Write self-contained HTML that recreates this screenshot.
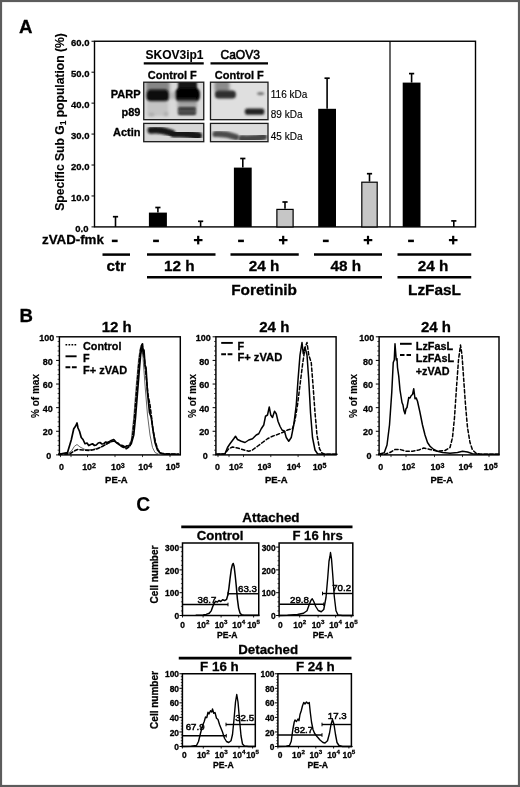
<!DOCTYPE html>
<html lang="en"><head><meta charset="utf-8"><title>Figure</title>
<style>html,body{margin:0;padding:0;background:#fff;}body{width:520px;height:787px;overflow:hidden;}svg{display:block;font-family:'Liberation Sans', sans-serif;}text{stroke:#000;stroke-width:0.3px;}</style></head><body>
<svg width="520" height="787" viewBox="0 0 520 787">
<defs><filter id="b1" x="-30%" y="-60%" width="160%" height="220%"><feGaussianBlur stdDeviation="1.1"/></filter><filter id="b2" x="-30%" y="-60%" width="160%" height="220%"><feGaussianBlur stdDeviation="1.8"/></filter><filter id="b3" x="-30%" y="-60%" width="160%" height="220%"><feGaussianBlur stdDeviation="0.8"/></filter><filter id="soft" x="-5%" y="-5%" width="110%" height="110%"><feGaussianBlur stdDeviation="0.35"/></filter></defs>
<rect x="0" y="0" width="520" height="787" fill="#fff" stroke="none" stroke-width="1" />
<rect x="1.05" y="1.05" width="517.9" height="784.9" fill="none" stroke="#5c5c5c" stroke-width="2.1" />
<g filter="url(#soft)">
<text x="19.1" y="33.1" font-size="18.7" font-weight="bold" text-anchor="start" fill="#000" >A</text>
<text transform="translate(64,122) rotate(-90)" style="stroke-width:0.15px" font-size="12.1" font-weight="bold" text-anchor="middle">Specific Sub G<tspan font-size="8.5" dy="2">1</tspan><tspan dy="-2"> population (%)</tspan></text>
<rect x="94.5" y="41.25" width="381.0" height="185.65" fill="none" stroke="#000" stroke-width="1.4" />
<line x1="390" y1="41.25" x2="390" y2="226.9" stroke="#000" stroke-width="1.2" />
<line x1="91.5" y1="226.9" x2="94.5" y2="226.9" stroke="#000" stroke-width="1" />
<text x="88.5" y="231.5" font-size="9.5" font-weight="bold" text-anchor="end" fill="#000" >0.0</text>
<line x1="91.5" y1="195.95833333333334" x2="94.5" y2="195.95833333333334" stroke="#000" stroke-width="1" />
<text x="89.5" y="200.85833333333335" font-size="9.5" font-weight="bold" text-anchor="end" fill="#000" >10.0</text>
<line x1="91.5" y1="165.01666666666668" x2="94.5" y2="165.01666666666668" stroke="#000" stroke-width="1" />
<text x="89.5" y="169.91666666666669" font-size="9.5" font-weight="bold" text-anchor="end" fill="#000" >20.0</text>
<line x1="91.5" y1="134.075" x2="94.5" y2="134.075" stroke="#000" stroke-width="1" />
<text x="89.5" y="138.975" font-size="9.5" font-weight="bold" text-anchor="end" fill="#000" >30.0</text>
<line x1="91.5" y1="103.13333333333334" x2="94.5" y2="103.13333333333334" stroke="#000" stroke-width="1" />
<text x="89.5" y="108.03333333333335" font-size="9.5" font-weight="bold" text-anchor="end" fill="#000" >40.0</text>
<line x1="91.5" y1="72.19166666666666" x2="94.5" y2="72.19166666666666" stroke="#000" stroke-width="1" />
<text x="89.5" y="77.09166666666667" font-size="9.5" font-weight="bold" text-anchor="end" fill="#000" >50.0</text>
<line x1="91.5" y1="41.25" x2="94.5" y2="41.25" stroke="#000" stroke-width="1" />
<text x="89.5" y="46.15" font-size="9.5" font-weight="bold" text-anchor="end" fill="#000" >60.0</text>
<line x1="115.5" y1="216.7" x2="115.5" y2="226.9" stroke="#000" stroke-width="1.6" />
<line x1="112.9" y1="216.7" x2="118.1" y2="216.7" stroke="#000" stroke-width="1.7" />
<line x1="157.9" y1="207.5" x2="157.9" y2="212.6" stroke="#000" stroke-width="1.6" />
<line x1="155.3" y1="207.5" x2="160.5" y2="207.5" stroke="#000" stroke-width="1.7" />
<rect x="148.9" y="212.6" width="18.0" height="14.300000000000011" fill="#000" stroke="none" stroke-width="1" />
<line x1="200.6" y1="221.3" x2="200.6" y2="226.9" stroke="#000" stroke-width="1.6" />
<line x1="198.0" y1="221.3" x2="203.2" y2="221.3" stroke="#000" stroke-width="1.7" />
<line x1="242.8" y1="158.5" x2="242.8" y2="167.6" stroke="#000" stroke-width="1.6" />
<line x1="240.20000000000002" y1="158.5" x2="245.4" y2="158.5" stroke="#000" stroke-width="1.7" />
<rect x="233.9" y="167.6" width="17.799999999999983" height="59.30000000000001" fill="#000" stroke="none" stroke-width="1" />
<line x1="285" y1="202" x2="285" y2="208.8" stroke="#000" stroke-width="1.6" />
<line x1="282.4" y1="202" x2="287.6" y2="202" stroke="#000" stroke-width="1.7" />
<rect x="276.90000000000003" y="209.4" width="16.199999999999978" height="17.499999999999993" fill="#c6c6c6" stroke="#000" stroke-width="1.2" />
<line x1="327.1" y1="78.2" x2="327.1" y2="108.8" stroke="#000" stroke-width="1.6" />
<line x1="324.5" y1="78.2" x2="329.70000000000005" y2="78.2" stroke="#000" stroke-width="1.7" />
<rect x="318.2" y="108.8" width="17.80000000000001" height="118.10000000000001" fill="#000" stroke="none" stroke-width="1" />
<line x1="369.5" y1="173.7" x2="369.5" y2="181.6" stroke="#000" stroke-width="1.6" />
<line x1="366.9" y1="173.7" x2="372.1" y2="173.7" stroke="#000" stroke-width="1.7" />
<rect x="361.8" y="182.2" width="15.400000000000023" height="44.70000000000001" fill="#c6c6c6" stroke="#000" stroke-width="1.2" />
<line x1="411.6" y1="73.6" x2="411.6" y2="82.6" stroke="#000" stroke-width="1.6" />
<line x1="409.0" y1="73.6" x2="414.20000000000005" y2="73.6" stroke="#000" stroke-width="1.7" />
<rect x="402.7" y="82.6" width="17.80000000000001" height="144.3" fill="#000" stroke="none" stroke-width="1" />
<line x1="453.8" y1="220.9" x2="453.8" y2="226.9" stroke="#000" stroke-width="1.6" />
<line x1="451.2" y1="220.9" x2="456.40000000000003" y2="220.9" stroke="#000" stroke-width="1.7" />
<text x="42" y="244" font-size="13.3" font-weight="bold" text-anchor="start" fill="#000" >zVAD-fmk</text>
<line x1="111.85" y1="240.9" x2="117.65" y2="240.9" stroke="#000" stroke-width="2.5" />
<line x1="153.1" y1="240.9" x2="158.9" y2="240.9" stroke="#000" stroke-width="2.5" />
<line x1="193.89999999999998" y1="240.1" x2="202.5" y2="240.1" stroke="#000" stroke-width="2.2" />
<line x1="198.2" y1="235.8" x2="198.2" y2="244.4" stroke="#000" stroke-width="2.2" />
<line x1="238.1" y1="240.9" x2="243.9" y2="240.9" stroke="#000" stroke-width="2.5" />
<line x1="278.9" y1="240.1" x2="287.5" y2="240.1" stroke="#000" stroke-width="2.2" />
<line x1="283.2" y1="235.8" x2="283.2" y2="244.4" stroke="#000" stroke-width="2.2" />
<line x1="322.90000000000003" y1="240.9" x2="328.7" y2="240.9" stroke="#000" stroke-width="2.5" />
<line x1="363.7" y1="240.1" x2="372.3" y2="240.1" stroke="#000" stroke-width="2.2" />
<line x1="368" y1="235.8" x2="368" y2="244.4" stroke="#000" stroke-width="2.2" />
<line x1="408.1" y1="240.9" x2="413.9" y2="240.9" stroke="#000" stroke-width="2.5" />
<line x1="448.9" y1="240.1" x2="457.5" y2="240.1" stroke="#000" stroke-width="2.2" />
<line x1="453.2" y1="235.8" x2="453.2" y2="244.4" stroke="#000" stroke-width="2.2" />
<line x1="102.5" y1="254.6" x2="130" y2="254.6" stroke="#000" stroke-width="2.5" />
<line x1="147" y1="254.6" x2="215.5" y2="254.6" stroke="#000" stroke-width="2.5" />
<line x1="230.5" y1="254.6" x2="298.75" y2="254.6" stroke="#000" stroke-width="2.5" />
<line x1="314" y1="254.6" x2="382" y2="254.6" stroke="#000" stroke-width="2.5" />
<line x1="397.5" y1="254.6" x2="471.25" y2="254.6" stroke="#000" stroke-width="2.5" />
<text x="116.3" y="270.8" font-size="15.3" font-weight="bold" text-anchor="middle" fill="#000" >ctr</text>
<text x="179.3" y="270.8" font-size="15.3" font-weight="bold" text-anchor="middle" fill="#000" >12 h</text>
<text x="264" y="270.8" font-size="15.3" font-weight="bold" text-anchor="middle" fill="#000" >24 h</text>
<text x="345.7" y="270.8" font-size="15.3" font-weight="bold" text-anchor="middle" fill="#000" >48 h</text>
<text x="433" y="270.8" font-size="15.3" font-weight="bold" text-anchor="middle" fill="#000" >24 h</text>
<line x1="147" y1="277.2" x2="382" y2="277.2" stroke="#000" stroke-width="2.5" />
<line x1="397.5" y1="277.2" x2="471.25" y2="277.2" stroke="#000" stroke-width="2.5" />
<text x="264.1" y="294.6" font-size="15.4" font-weight="bold" text-anchor="middle" fill="#000" >Foretinib</text>
<text x="434.5" y="294.6" font-size="15.4" font-weight="bold" text-anchor="middle" fill="#000" >LzFasL</text>
<text x="174.5" y="58.5" font-size="12" font-weight="bold" text-anchor="middle" fill="#000" style="stroke-width:0.1px">SKOV3ip1</text>
<text x="240.2" y="58.5" font-size="12" font-weight="normal" text-anchor="middle" fill="#000" style="stroke-width:0.6px">CaOV3</text>
<line x1="143.75" y1="63.4" x2="203.75" y2="63.4" stroke="#000" stroke-width="2.2" />
<line x1="210.5" y1="63.4" x2="268" y2="63.4" stroke="#000" stroke-width="2.2" />
<text x="172.3" y="79" font-size="11" font-weight="bold" text-anchor="middle" fill="#000" >Control F</text>
<text x="239.3" y="79" font-size="11" font-weight="bold" text-anchor="middle" fill="#000" >Control F</text>
<text x="140.5" y="98.2" font-size="11" font-weight="bold" text-anchor="end" fill="#000" >PARP</text>
<text x="140.5" y="116.4" font-size="11" font-weight="bold" text-anchor="end" fill="#000" >p89</text>
<text x="140.5" y="136" font-size="11" font-weight="bold" text-anchor="end" fill="#000" >Actin</text>
<text x="270.8" y="98" font-size="10" font-weight="normal" text-anchor="start" fill="#000" style="stroke-width:0.15px">116 kDa</text>
<text x="270.8" y="117.7" font-size="10" font-weight="normal" text-anchor="start" fill="#000" style="stroke-width:0.15px">89 kDa</text>
<text x="270.8" y="140.4" font-size="10" font-weight="normal" text-anchor="start" fill="#000" style="stroke-width:0.15px">45 kDa</text>
<svg x="143.75" y="82.2" width="60" height="37.5" viewBox="143.75 82.2 60 37.5" overflow="hidden">
<rect x="143.75" y="82.2" width="60" height="37.5" fill="#d9d9d9" stroke="none" stroke-width="1" />
<rect x="146" y="80" width="23.5" height="12" fill="#6a6a6a" opacity="0.75" filter="url(#b2)"/>
<rect x="178" y="78" width="19" height="14" rx="3" fill="#141414" filter="url(#b1)"/>
<rect x="146.3" y="89.6" width="23" height="12" rx="4.5" fill="#0c0c0c" filter="url(#b1)"/>
<rect x="175.3" y="88" width="24.6" height="13.6" rx="5" fill="#060606" filter="url(#b1)"/>
<rect x="169" y="92" width="7" height="7" fill="#999" opacity="0.5" filter="url(#b2)"/>
<rect x="177.5" y="99" width="19.5" height="9" fill="#777" opacity="0.55" filter="url(#b2)"/>
<rect x="147" y="101" width="21" height="15" fill="#aaa" opacity="0.45" filter="url(#b2)"/>
<rect x="177.8" y="107.3" width="18.4" height="7.6" rx="2" fill="#5a5a5a" filter="url(#b1)"/>
<rect x="178.5" y="107.6" width="17" height="2.2" rx="1" fill="#333" filter="url(#b3)"/>
<rect x="178.5" y="112.2" width="17" height="2.2" rx="1" fill="#3a3a3a" filter="url(#b3)"/>
<ellipse cx="151.5" cy="114.5" rx="3" ry="2" fill="#aaa" opacity="0.8" filter="url(#b1)"/>
<ellipse cx="166" cy="114" rx="2.5" ry="2" fill="#aaa" opacity="0.8" filter="url(#b1)"/>
</svg>
<rect x="143.75" y="82.2" width="60" height="37.5" fill="none" stroke="#1a1a1a" stroke-width="1.3" />
<svg x="143.75" y="123.4" width="60" height="18.3" viewBox="143.75 123.4 60 18.3" overflow="hidden">
<rect x="143.75" y="123.4" width="60" height="18.3" fill="#d6d6d6" stroke="none" stroke-width="1" />
<path d="M151 130.2 Q160 129 172 133.2" stroke="#151515" stroke-width="7" fill="none" stroke-linecap="round" filter="url(#b3)"/>
<path d="M174 133.6 Q187 132.8 198 135.8" stroke="#151515" stroke-width="8" fill="none" stroke-linecap="round" filter="url(#b3)"/>
</svg>
<rect x="143.75" y="123.4" width="60" height="18.3" fill="none" stroke="#1a1a1a" stroke-width="1.3" />
<svg x="210.5" y="82.2" width="57.5" height="37.5" viewBox="210.5 82.2 57.5 37.5" overflow="hidden">
<rect x="210.5" y="82.2" width="57.5" height="37.5" fill="#dfdfdf" stroke="none" stroke-width="1" />
<rect x="214.5" y="80" width="15" height="12" rx="3" fill="#777" opacity="0.8" filter="url(#b2)"/>
<rect x="214.9" y="90.4" width="21" height="8" rx="3.5" fill="#2e2e2e" filter="url(#b1)"/>
<ellipse cx="260.6" cy="93.6" rx="3.6" ry="1.7" fill="#777" filter="url(#b1)"/>
<rect x="244.8" y="108.6" width="19.6" height="6.2" rx="2.8" fill="#242424" filter="url(#b1)"/>
</svg>
<rect x="210.5" y="82.2" width="57.5" height="37.5" fill="none" stroke="#1a1a1a" stroke-width="1.3" />
<svg x="210.5" y="123.4" width="57.5" height="18.3" viewBox="210.5 123.4 57.5 18.3" overflow="hidden">
<rect x="210.5" y="123.4" width="57.5" height="18.3" fill="#dcdcdc" stroke="none" stroke-width="1" />
<path d="M215.5 134 Q226 133.5 236 137.2" stroke="#4c4c4c" stroke-width="6.2" fill="none" stroke-linecap="round" filter="url(#b3)"/>
<path d="M242 138.5 Q254 139.5 263.5 136.8" stroke="#444" stroke-width="7" fill="none" stroke-linecap="round" filter="url(#b3)"/>
</svg>
<rect x="210.5" y="123.4" width="57.5" height="18.3" fill="none" stroke="#1a1a1a" stroke-width="1.3" />
<text x="19.5" y="322.2" font-size="18.6" font-weight="bold" text-anchor="start" fill="#000" >B</text>
<rect x="59.4" y="336.8" width="120.9" height="118.09999999999997" fill="none" stroke="#000" stroke-width="1.45" />
<line x1="56.1" y1="454.9" x2="59.4" y2="454.9" stroke="#000" stroke-width="1" />
<text x="51.199999999999996" y="459.03999999999996" font-size="9.0" font-weight="bold" text-anchor="end" fill="#000" >0</text>
<line x1="56.1" y1="431.28" x2="59.4" y2="431.28" stroke="#000" stroke-width="1" />
<text x="52.699999999999996" y="435.41999999999996" font-size="9.0" font-weight="bold" text-anchor="end" fill="#000" >20</text>
<line x1="56.1" y1="407.65999999999997" x2="59.4" y2="407.65999999999997" stroke="#000" stroke-width="1" />
<text x="52.699999999999996" y="411.79999999999995" font-size="9.0" font-weight="bold" text-anchor="end" fill="#000" >40</text>
<line x1="56.1" y1="384.03999999999996" x2="59.4" y2="384.03999999999996" stroke="#000" stroke-width="1" />
<text x="52.699999999999996" y="388.17999999999995" font-size="9.0" font-weight="bold" text-anchor="end" fill="#000" >60</text>
<line x1="56.1" y1="360.42" x2="59.4" y2="360.42" stroke="#000" stroke-width="1" />
<text x="52.699999999999996" y="364.56" font-size="9.0" font-weight="bold" text-anchor="end" fill="#000" >80</text>
<line x1="56.1" y1="336.8" x2="59.4" y2="336.8" stroke="#000" stroke-width="1" />
<text x="54.199999999999996" y="340.94" font-size="9.0" font-weight="bold" text-anchor="end" fill="#000" >100</text>
<line x1="57.6" y1="450.176" x2="59.4" y2="450.176" stroke="#000" stroke-width="0.7" />
<line x1="57.6" y1="445.452" x2="59.4" y2="445.452" stroke="#000" stroke-width="0.7" />
<line x1="57.6" y1="440.728" x2="59.4" y2="440.728" stroke="#000" stroke-width="0.7" />
<line x1="57.6" y1="436.00399999999996" x2="59.4" y2="436.00399999999996" stroke="#000" stroke-width="0.7" />
<line x1="57.6" y1="426.556" x2="59.4" y2="426.556" stroke="#000" stroke-width="0.7" />
<line x1="57.6" y1="421.832" x2="59.4" y2="421.832" stroke="#000" stroke-width="0.7" />
<line x1="57.6" y1="417.108" x2="59.4" y2="417.108" stroke="#000" stroke-width="0.7" />
<line x1="57.6" y1="412.384" x2="59.4" y2="412.384" stroke="#000" stroke-width="0.7" />
<line x1="57.6" y1="402.936" x2="59.4" y2="402.936" stroke="#000" stroke-width="0.7" />
<line x1="57.6" y1="398.212" x2="59.4" y2="398.212" stroke="#000" stroke-width="0.7" />
<line x1="57.6" y1="393.488" x2="59.4" y2="393.488" stroke="#000" stroke-width="0.7" />
<line x1="57.6" y1="388.764" x2="59.4" y2="388.764" stroke="#000" stroke-width="0.7" />
<line x1="57.6" y1="379.31600000000003" x2="59.4" y2="379.31600000000003" stroke="#000" stroke-width="0.7" />
<line x1="57.6" y1="374.592" x2="59.4" y2="374.592" stroke="#000" stroke-width="0.7" />
<line x1="57.6" y1="369.868" x2="59.4" y2="369.868" stroke="#000" stroke-width="0.7" />
<line x1="57.6" y1="365.144" x2="59.4" y2="365.144" stroke="#000" stroke-width="0.7" />
<line x1="57.6" y1="355.696" x2="59.4" y2="355.696" stroke="#000" stroke-width="0.7" />
<line x1="57.6" y1="350.972" x2="59.4" y2="350.972" stroke="#000" stroke-width="0.7" />
<line x1="57.6" y1="346.248" x2="59.4" y2="346.248" stroke="#000" stroke-width="0.7" />
<line x1="57.6" y1="341.524" x2="59.4" y2="341.524" stroke="#000" stroke-width="0.7" />
<text x="61.5" y="470.2" font-size="8.9" font-weight="bold" text-anchor="middle" fill="#000" >0</text>
<text x="89.1" y="470.2" font-size="8.9" font-weight="bold" text-anchor="middle">10<tspan font-size="7.1" dy="-2.6">2</tspan></text>
<text x="117.9" y="470.2" font-size="8.9" font-weight="bold" text-anchor="middle">10<tspan font-size="7.1" dy="-2.6">3</tspan></text>
<text x="145.2" y="470.2" font-size="8.9" font-weight="bold" text-anchor="middle">10<tspan font-size="7.1" dy="-2.6">4</tspan></text>
<text x="172.7" y="470.2" font-size="8.9" font-weight="bold" text-anchor="middle">10<tspan font-size="7.1" dy="-2.6">5</tspan></text>
<text x="116.4" y="483.1" font-size="8.9" font-weight="bold" text-anchor="middle" textLength="22.6" lengthAdjust="spacingAndGlyphs">PE-A</text>
<text transform="translate(38.7,396) rotate(-90)" style="stroke-width:0.15px" font-size="10" font-weight="bold" text-anchor="middle">% of max</text>
<text x="116.7" y="331.6" font-size="15" font-weight="bold" text-anchor="middle" fill="#000" >12 h</text>
<line x1="60.5" y1="454.9" x2="60.5" y2="457.09999999999997" stroke="#000" stroke-width="0.8" />
<line x1="71" y1="454.9" x2="71" y2="457.09999999999997" stroke="#000" stroke-width="0.8" />
<line x1="87.5" y1="454.9" x2="87.5" y2="457.09999999999997" stroke="#000" stroke-width="0.8" />
<line x1="115" y1="454.9" x2="115" y2="457.09999999999997" stroke="#000" stroke-width="0.8" />
<line x1="142.5" y1="454.9" x2="142.5" y2="457.09999999999997" stroke="#000" stroke-width="0.8" />
<line x1="170" y1="454.9" x2="170" y2="457.09999999999997" stroke="#000" stroke-width="0.8" />
<line x1="218" y1="454.9" x2="218" y2="457.09999999999997" stroke="#000" stroke-width="0.8" />
<line x1="229" y1="454.9" x2="229" y2="457.09999999999997" stroke="#000" stroke-width="0.8" />
<line x1="243.5" y1="454.9" x2="243.5" y2="457.09999999999997" stroke="#000" stroke-width="0.8" />
<line x1="270.8" y1="454.9" x2="270.8" y2="457.09999999999997" stroke="#000" stroke-width="0.8" />
<line x1="298.1" y1="454.9" x2="298.1" y2="457.09999999999997" stroke="#000" stroke-width="0.8" />
<line x1="324.2" y1="454.9" x2="324.2" y2="457.09999999999997" stroke="#000" stroke-width="0.8" />
<line x1="380.5" y1="454.9" x2="380.5" y2="457.09999999999997" stroke="#000" stroke-width="0.8" />
<line x1="391" y1="454.9" x2="391" y2="457.09999999999997" stroke="#000" stroke-width="0.8" />
<line x1="406" y1="454.9" x2="406" y2="457.09999999999997" stroke="#000" stroke-width="0.8" />
<line x1="434.5" y1="454.9" x2="434.5" y2="457.09999999999997" stroke="#000" stroke-width="0.8" />
<line x1="462.5" y1="454.9" x2="462.5" y2="457.09999999999997" stroke="#000" stroke-width="0.8" />
<line x1="489" y1="454.9" x2="489" y2="457.09999999999997" stroke="#000" stroke-width="0.8" />
<line x1="65.5" y1="344.7" x2="77" y2="344.7" stroke="#000" stroke-width="1.6" stroke-dasharray="1.7,1.3"/>
<line x1="65.5" y1="356.3" x2="76.6" y2="356.3" stroke="#000" stroke-width="1.9" />
<line x1="65.5" y1="367.3" x2="77" y2="367.3" stroke="#000" stroke-width="1.9" stroke-dasharray="4.8,1.6"/>
<text x="83" y="349.8" font-size="10.8" font-weight="bold" text-anchor="start" fill="#000" >Control</text>
<text x="83" y="362.2" font-size="10.8" font-weight="bold" text-anchor="start" fill="#000" >F</text>
<text x="83" y="373.5" font-size="11" font-weight="bold" text-anchor="start" fill="#000" >F+ zVAD</text>
<polyline points="58.75,454.25 67.50,453.75 71.25,451.25 74.50,446.25 77.00,444.50 80.00,447.00 85.00,449.50 92.50,449.50 100.00,447.50 107.50,443.75 113.75,441.25 117.50,443.75 122.50,447.50 127.50,447.50 131.25,440.00 133.75,417.50 136.25,385.00 138.75,357.50 140.75,345.50 143.00,357.50 145.00,385.00 147.50,415.00 150.00,435.00 152.50,447.50 155.00,452.50 158.75,454.25 178.75,454.25" fill="none" stroke="#555" stroke-width="0.9" stroke-linejoin="round" stroke-linecap="round" />
<polyline points="58.75,454.25 67.50,452.50 71.25,440.00 73.75,428.75 75.50,426.25 77.00,423.00 78.00,428.00 79.50,431.25 81.25,437.50 83.00,439.50 85.00,443.75 87.00,443.00 88.75,445.50 90.75,444.50 92.50,443.75 94.50,445.50 96.25,445.00 98.25,443.00 100.00,442.50 102.00,444.00 103.75,443.75 105.75,442.00 107.50,442.50 109.50,441.50 111.25,440.50 113.75,439.50 116.25,442.50 118.00,443.00 120.00,445.00 122.50,445.50 125.00,447.00 127.00,445.75 128.75,446.25 131.25,443.75 133.75,435.00 135.50,417.50 137.50,392.50 139.50,367.50 140.75,353.75 141.75,347.50 142.50,343.75 143.25,353.75 144.00,350.00 145.00,365.00 146.00,367.50 147.50,392.50 149.50,412.50 151.25,417.50 153.00,430.00 155.00,442.50 157.50,450.00 160.00,453.00 165.00,454.25 178.75,454.25" fill="none" stroke="#000" stroke-width="1.7" stroke-linejoin="round" stroke-linecap="round" />
<polyline points="58.75,454.25 70.00,453.75 73.75,451.25 77.50,449.50 82.50,450.00 90.00,450.50 97.50,448.75 105.00,445.00 111.25,441.25 115.00,441.25 120.00,445.50 126.25,448.75 130.00,446.25 132.50,437.50 134.50,417.50 136.50,392.50 138.50,367.50 140.50,350.00 142.00,344.50 144.00,355.00 146.00,375.00 148.00,395.00 150.00,405.00 151.25,415.00 153.00,430.00 155.50,442.50 158.00,450.00 161.25,453.50 178.75,454.25" fill="none" stroke="#000" stroke-width="1.6" stroke-linejoin="round" stroke-linecap="round" stroke-dasharray="3.4,2.2"/>
<rect x="215.9" y="336.8" width="120.20000000000002" height="118.09999999999997" fill="none" stroke="#000" stroke-width="1.45" />
<line x1="212.6" y1="454.9" x2="215.9" y2="454.9" stroke="#000" stroke-width="1" />
<text x="207.70000000000002" y="459.03999999999996" font-size="9.0" font-weight="bold" text-anchor="end" fill="#000" >0</text>
<line x1="212.6" y1="431.28" x2="215.9" y2="431.28" stroke="#000" stroke-width="1" />
<text x="209.20000000000002" y="435.41999999999996" font-size="9.0" font-weight="bold" text-anchor="end" fill="#000" >20</text>
<line x1="212.6" y1="407.65999999999997" x2="215.9" y2="407.65999999999997" stroke="#000" stroke-width="1" />
<text x="209.20000000000002" y="411.79999999999995" font-size="9.0" font-weight="bold" text-anchor="end" fill="#000" >40</text>
<line x1="212.6" y1="384.03999999999996" x2="215.9" y2="384.03999999999996" stroke="#000" stroke-width="1" />
<text x="209.20000000000002" y="388.17999999999995" font-size="9.0" font-weight="bold" text-anchor="end" fill="#000" >60</text>
<line x1="212.6" y1="360.42" x2="215.9" y2="360.42" stroke="#000" stroke-width="1" />
<text x="209.20000000000002" y="364.56" font-size="9.0" font-weight="bold" text-anchor="end" fill="#000" >80</text>
<line x1="212.6" y1="336.8" x2="215.9" y2="336.8" stroke="#000" stroke-width="1" />
<text x="210.70000000000002" y="340.94" font-size="9.0" font-weight="bold" text-anchor="end" fill="#000" >100</text>
<line x1="214.1" y1="450.176" x2="215.9" y2="450.176" stroke="#000" stroke-width="0.7" />
<line x1="214.1" y1="445.452" x2="215.9" y2="445.452" stroke="#000" stroke-width="0.7" />
<line x1="214.1" y1="440.728" x2="215.9" y2="440.728" stroke="#000" stroke-width="0.7" />
<line x1="214.1" y1="436.00399999999996" x2="215.9" y2="436.00399999999996" stroke="#000" stroke-width="0.7" />
<line x1="214.1" y1="426.556" x2="215.9" y2="426.556" stroke="#000" stroke-width="0.7" />
<line x1="214.1" y1="421.832" x2="215.9" y2="421.832" stroke="#000" stroke-width="0.7" />
<line x1="214.1" y1="417.108" x2="215.9" y2="417.108" stroke="#000" stroke-width="0.7" />
<line x1="214.1" y1="412.384" x2="215.9" y2="412.384" stroke="#000" stroke-width="0.7" />
<line x1="214.1" y1="402.936" x2="215.9" y2="402.936" stroke="#000" stroke-width="0.7" />
<line x1="214.1" y1="398.212" x2="215.9" y2="398.212" stroke="#000" stroke-width="0.7" />
<line x1="214.1" y1="393.488" x2="215.9" y2="393.488" stroke="#000" stroke-width="0.7" />
<line x1="214.1" y1="388.764" x2="215.9" y2="388.764" stroke="#000" stroke-width="0.7" />
<line x1="214.1" y1="379.31600000000003" x2="215.9" y2="379.31600000000003" stroke="#000" stroke-width="0.7" />
<line x1="214.1" y1="374.592" x2="215.9" y2="374.592" stroke="#000" stroke-width="0.7" />
<line x1="214.1" y1="369.868" x2="215.9" y2="369.868" stroke="#000" stroke-width="0.7" />
<line x1="214.1" y1="365.144" x2="215.9" y2="365.144" stroke="#000" stroke-width="0.7" />
<line x1="214.1" y1="355.696" x2="215.9" y2="355.696" stroke="#000" stroke-width="0.7" />
<line x1="214.1" y1="350.972" x2="215.9" y2="350.972" stroke="#000" stroke-width="0.7" />
<line x1="214.1" y1="346.248" x2="215.9" y2="346.248" stroke="#000" stroke-width="0.7" />
<line x1="214.1" y1="341.524" x2="215.9" y2="341.524" stroke="#000" stroke-width="0.7" />
<text x="217.5" y="470.2" font-size="8.9" font-weight="bold" text-anchor="middle" fill="#000" >0</text>
<text x="236" y="470.2" font-size="8.9" font-weight="bold" text-anchor="middle">10<tspan font-size="7.1" dy="-2.6">2</tspan></text>
<text x="264.4" y="470.2" font-size="8.9" font-weight="bold" text-anchor="middle">10<tspan font-size="7.1" dy="-2.6">3</tspan></text>
<text x="293.6" y="470.2" font-size="8.9" font-weight="bold" text-anchor="middle">10<tspan font-size="7.1" dy="-2.6">4</tspan></text>
<text x="319.6" y="470.2" font-size="8.9" font-weight="bold" text-anchor="middle">10<tspan font-size="7.1" dy="-2.6">5</tspan></text>
<text x="276.3" y="483.1" font-size="8.9" font-weight="bold" text-anchor="middle" textLength="22.6" lengthAdjust="spacingAndGlyphs">PE-A</text>
<text transform="translate(196,396) rotate(-90)" style="stroke-width:0.15px" font-size="10" font-weight="bold" text-anchor="middle">% of max</text>
<text x="274.3" y="331.6" font-size="15" font-weight="bold" text-anchor="middle" fill="#000" >24 h</text>
<line x1="221.2" y1="342.9" x2="232.8" y2="342.9" stroke="#000" stroke-width="1.9" />
<line x1="221.2" y1="354.2" x2="232.8" y2="354.2" stroke="#000" stroke-width="1.9" stroke-dasharray="4.8,1.6"/>
<text x="237.4" y="349.6" font-size="10.8" font-weight="bold" text-anchor="start" fill="#000" >F</text>
<text x="237.4" y="360.7" font-size="11.2" font-weight="bold" text-anchor="start" fill="#000" >F+ zVAD</text>
<polyline points="216.25,454.25 225.00,453.75 227.50,447.50 230.00,443.75 233.75,438.75 235.50,436.25 237.50,439.50 241.25,441.25 245.00,442.50 248.75,440.00 252.50,438.75 256.25,435.00 258.75,433.75 261.25,428.75 263.75,425.00 265.50,416.25 267.50,415.00 269.25,407.00 270.75,415.00 272.50,417.50 274.50,411.25 276.25,413.75 278.00,421.25 280.00,426.25 282.00,430.00 284.50,431.25 286.25,437.50 288.75,441.25 291.25,437.50 293.75,425.00 296.25,405.00 298.00,380.00 300.00,355.00 302.00,342.50 303.25,353.75 305.00,347.50 307.00,355.00 308.75,380.00 310.50,412.50 312.50,437.50 315.00,450.00 317.50,453.75 322.50,454.25 337.00,454.25" fill="none" stroke="#000" stroke-width="1.5" stroke-linejoin="round" stroke-linecap="round" />
<polyline points="216.25,454.25 225.00,453.75 228.75,448.75 232.50,447.00 237.50,448.00 242.50,449.50 248.75,451.25 252.50,450.00 257.50,446.25 262.50,442.50 267.50,438.75 272.50,436.25 277.50,434.50 282.50,432.50 287.50,430.00 292.50,428.75 295.00,420.00 297.50,405.00 300.00,385.00 302.50,365.00 305.00,347.50 307.00,342.50 308.75,355.00 311.25,362.50 313.00,385.00 315.00,412.50 317.00,435.00 319.50,448.75 322.00,453.00 325.00,454.25 337.00,454.25" fill="none" stroke="#000" stroke-width="1.5" stroke-linejoin="round" stroke-linecap="round" stroke-dasharray="3.4,2.3"/>
<rect x="379.1" y="336.8" width="119.89999999999998" height="118.09999999999997" fill="none" stroke="#000" stroke-width="1.45" />
<line x1="375.8" y1="454.9" x2="379.1" y2="454.9" stroke="#000" stroke-width="1" />
<text x="371.40000000000003" y="459.03999999999996" font-size="9.0" font-weight="bold" text-anchor="end" fill="#000" >0</text>
<line x1="375.8" y1="431.28" x2="379.1" y2="431.28" stroke="#000" stroke-width="1" />
<text x="372.90000000000003" y="435.41999999999996" font-size="9.0" font-weight="bold" text-anchor="end" fill="#000" >20</text>
<line x1="375.8" y1="407.65999999999997" x2="379.1" y2="407.65999999999997" stroke="#000" stroke-width="1" />
<text x="372.90000000000003" y="411.79999999999995" font-size="9.0" font-weight="bold" text-anchor="end" fill="#000" >40</text>
<line x1="375.8" y1="384.03999999999996" x2="379.1" y2="384.03999999999996" stroke="#000" stroke-width="1" />
<text x="372.90000000000003" y="388.17999999999995" font-size="9.0" font-weight="bold" text-anchor="end" fill="#000" >60</text>
<line x1="375.8" y1="360.42" x2="379.1" y2="360.42" stroke="#000" stroke-width="1" />
<text x="372.90000000000003" y="364.56" font-size="9.0" font-weight="bold" text-anchor="end" fill="#000" >80</text>
<line x1="375.8" y1="336.8" x2="379.1" y2="336.8" stroke="#000" stroke-width="1" />
<text x="374.40000000000003" y="340.94" font-size="9.0" font-weight="bold" text-anchor="end" fill="#000" >100</text>
<line x1="377.3" y1="450.176" x2="379.1" y2="450.176" stroke="#000" stroke-width="0.7" />
<line x1="377.3" y1="445.452" x2="379.1" y2="445.452" stroke="#000" stroke-width="0.7" />
<line x1="377.3" y1="440.728" x2="379.1" y2="440.728" stroke="#000" stroke-width="0.7" />
<line x1="377.3" y1="436.00399999999996" x2="379.1" y2="436.00399999999996" stroke="#000" stroke-width="0.7" />
<line x1="377.3" y1="426.556" x2="379.1" y2="426.556" stroke="#000" stroke-width="0.7" />
<line x1="377.3" y1="421.832" x2="379.1" y2="421.832" stroke="#000" stroke-width="0.7" />
<line x1="377.3" y1="417.108" x2="379.1" y2="417.108" stroke="#000" stroke-width="0.7" />
<line x1="377.3" y1="412.384" x2="379.1" y2="412.384" stroke="#000" stroke-width="0.7" />
<line x1="377.3" y1="402.936" x2="379.1" y2="402.936" stroke="#000" stroke-width="0.7" />
<line x1="377.3" y1="398.212" x2="379.1" y2="398.212" stroke="#000" stroke-width="0.7" />
<line x1="377.3" y1="393.488" x2="379.1" y2="393.488" stroke="#000" stroke-width="0.7" />
<line x1="377.3" y1="388.764" x2="379.1" y2="388.764" stroke="#000" stroke-width="0.7" />
<line x1="377.3" y1="379.31600000000003" x2="379.1" y2="379.31600000000003" stroke="#000" stroke-width="0.7" />
<line x1="377.3" y1="374.592" x2="379.1" y2="374.592" stroke="#000" stroke-width="0.7" />
<line x1="377.3" y1="369.868" x2="379.1" y2="369.868" stroke="#000" stroke-width="0.7" />
<line x1="377.3" y1="365.144" x2="379.1" y2="365.144" stroke="#000" stroke-width="0.7" />
<line x1="377.3" y1="355.696" x2="379.1" y2="355.696" stroke="#000" stroke-width="0.7" />
<line x1="377.3" y1="350.972" x2="379.1" y2="350.972" stroke="#000" stroke-width="0.7" />
<line x1="377.3" y1="346.248" x2="379.1" y2="346.248" stroke="#000" stroke-width="0.7" />
<line x1="377.3" y1="341.524" x2="379.1" y2="341.524" stroke="#000" stroke-width="0.7" />
<text x="380.8" y="470.2" font-size="8.9" font-weight="bold" text-anchor="middle" fill="#000" >0</text>
<text x="408.3" y="470.2" font-size="8.9" font-weight="bold" text-anchor="middle">10<tspan font-size="7.1" dy="-2.6">2</tspan></text>
<text x="437.5" y="470.2" font-size="8.9" font-weight="bold" text-anchor="middle">10<tspan font-size="7.1" dy="-2.6">3</tspan></text>
<text x="465.4" y="470.2" font-size="8.9" font-weight="bold" text-anchor="middle">10<tspan font-size="7.1" dy="-2.6">4</tspan></text>
<text x="490.7" y="470.2" font-size="8.9" font-weight="bold" text-anchor="middle">10<tspan font-size="7.1" dy="-2.6">5</tspan></text>
<text x="441.7" y="483.1" font-size="8.9" font-weight="bold" text-anchor="middle" textLength="22.6" lengthAdjust="spacingAndGlyphs">PE-A</text>
<text transform="translate(357,396) rotate(-90)" style="stroke-width:0.15px" font-size="10" font-weight="bold" text-anchor="middle">% of max</text>
<text x="436" y="331.6" font-size="15" font-weight="bold" text-anchor="middle" fill="#000" >24 h</text>
<line x1="400" y1="343.8" x2="411.7" y2="343.8" stroke="#000" stroke-width="2" />
<line x1="400" y1="355" x2="411.7" y2="355" stroke="#000" stroke-width="2" stroke-dasharray="4.5,2"/>
<text x="415.8" y="350.3" font-size="10.8" font-weight="bold" text-anchor="start" fill="#000" >LzFasL</text>
<text x="415.8" y="361.7" font-size="10.8" font-weight="bold" text-anchor="start" fill="#000" >LzFAsL</text>
<text x="415.8" y="374.6" font-size="10.8" font-weight="bold" text-anchor="start" fill="#000" >+zVAD</text>
<polyline points="378.75,454.25 384.25,452.75 387.00,445.00 389.50,425.00 391.75,392.50 393.25,362.50 394.25,360.00 395.00,343.75 396.25,360.00 397.00,358.75 397.50,367.50 398.75,376.25 400.00,390.00 402.00,402.50 403.00,405.00 403.75,410.00 405.00,413.75 406.00,408.75 407.00,407.50 408.75,397.50 410.00,398.00 411.25,395.50 412.50,394.50 413.75,388.75 415.00,398.75 416.25,398.00 417.50,401.25 420.00,412.50 422.50,425.00 425.00,435.00 427.50,442.50 430.00,446.25 433.75,449.50 437.50,451.25 442.50,452.50 450.00,453.25 457.50,452.50 462.50,451.25 467.50,452.00 472.50,453.75 480.00,454.25 498.75,454.25" fill="none" stroke="#000" stroke-width="1.5" stroke-linejoin="round" stroke-linecap="round" />
<polyline points="378.75,454.25 385.00,454.25 390.00,452.50 395.00,449.50 400.00,449.50 406.25,451.25 412.50,451.25 418.75,450.00 423.75,448.00 430.00,449.50 437.50,451.25 445.00,450.50 450.00,447.50 452.50,437.50 454.50,417.50 456.50,387.50 458.50,360.00 460.50,345.00 462.00,355.00 463.75,380.00 465.50,405.00 467.50,427.50 470.00,442.50 472.50,450.00 476.25,453.25 480.00,454.25 498.75,454.25" fill="none" stroke="#000" stroke-width="1.5" stroke-linejoin="round" stroke-linecap="round" stroke-dasharray="3.4,2.3"/>
<text x="136.2" y="511.4" font-size="19.3" font-weight="bold" text-anchor="start" fill="#000" style="stroke-width:0.1px">C</text>
<text x="270.9" y="522" font-size="13.4" font-weight="bold" text-anchor="middle" fill="#000" >Attached</text>
<line x1="181.25" y1="526.9" x2="352.5" y2="526.9" stroke="#000" stroke-width="2.6" />
<text x="220.1" y="540" font-size="13.2" font-weight="bold" text-anchor="middle" fill="#000" >Control</text>
<text x="317.6" y="540" font-size="13.1" font-weight="bold" text-anchor="middle" fill="#000" >F 16 hrs</text>
<text x="268.2" y="653.75" font-size="13.3" font-weight="bold" text-anchor="middle" fill="#000" >Detached</text>
<line x1="178.75" y1="658.2" x2="351.5" y2="658.2" stroke="#000" stroke-width="2.8" />
<text x="219.4" y="670.5" font-size="13.4" font-weight="bold" text-anchor="middle" fill="#000" >F 16 h</text>
<text x="315.3" y="670.5" font-size="13.4" font-weight="bold" text-anchor="middle" fill="#000" >F 24 h</text>
<rect x="182.5" y="543" width="76.25" height="72.5" fill="none" stroke="#000" stroke-width="1.5" />
<line x1="179.5" y1="615.5" x2="182.5" y2="615.5" stroke="#000" stroke-width="1" />
<text x="179.1" y="619.1" font-size="8.4" font-weight="bold" text-anchor="end" fill="#000" >0</text>
<line x1="179.5" y1="592.7" x2="182.5" y2="592.7" stroke="#000" stroke-width="1" />
<text x="179.1" y="596.3000000000001" font-size="8.4" font-weight="bold" text-anchor="end" fill="#000" >100</text>
<line x1="179.5" y1="569.9" x2="182.5" y2="569.9" stroke="#000" stroke-width="1" />
<text x="179.1" y="573.5" font-size="8.4" font-weight="bold" text-anchor="end" fill="#000" >200</text>
<line x1="179.5" y1="547.1" x2="182.5" y2="547.1" stroke="#000" stroke-width="1" />
<text x="179.1" y="550.7" font-size="8.4" font-weight="bold" text-anchor="end" fill="#000" >300</text>
<line x1="180.9" y1="610.94" x2="182.5" y2="610.94" stroke="#000" stroke-width="0.7" />
<line x1="180.9" y1="606.38" x2="182.5" y2="606.38" stroke="#000" stroke-width="0.7" />
<line x1="180.9" y1="601.82" x2="182.5" y2="601.82" stroke="#000" stroke-width="0.7" />
<line x1="180.9" y1="597.26" x2="182.5" y2="597.26" stroke="#000" stroke-width="0.7" />
<line x1="180.9" y1="588.14" x2="182.5" y2="588.14" stroke="#000" stroke-width="0.7" />
<line x1="180.9" y1="583.58" x2="182.5" y2="583.58" stroke="#000" stroke-width="0.7" />
<line x1="180.9" y1="579.02" x2="182.5" y2="579.02" stroke="#000" stroke-width="0.7" />
<line x1="180.9" y1="574.46" x2="182.5" y2="574.46" stroke="#000" stroke-width="0.7" />
<line x1="180.9" y1="565.34" x2="182.5" y2="565.34" stroke="#000" stroke-width="0.7" />
<line x1="180.9" y1="560.78" x2="182.5" y2="560.78" stroke="#000" stroke-width="0.7" />
<line x1="180.9" y1="556.22" x2="182.5" y2="556.22" stroke="#000" stroke-width="0.7" />
<line x1="180.9" y1="551.66" x2="182.5" y2="551.66" stroke="#000" stroke-width="0.7" />
<text x="182.5" y="627.6" font-size="8.4" font-weight="bold" text-anchor="middle" fill="#000" >0</text>
<line x1="182.5" y1="615.5" x2="182.5" y2="617.5" stroke="#000" stroke-width="0.9" />
<text x="203.1" y="627.6" font-size="8.4" font-weight="bold" text-anchor="middle">10<tspan font-size="6.2" dy="-3.4">2</tspan></text>
<line x1="203.1" y1="615.5" x2="203.1" y2="617.5" stroke="#000" stroke-width="0.9" />
<text x="221.1" y="627.6" font-size="8.4" font-weight="bold" text-anchor="middle">10<tspan font-size="6.2" dy="-3.4">3</tspan></text>
<line x1="221.1" y1="615.5" x2="221.1" y2="617.5" stroke="#000" stroke-width="0.9" />
<text x="238.7" y="627.6" font-size="8.4" font-weight="bold" text-anchor="middle">10<tspan font-size="6.2" dy="-3.4">4</tspan></text>
<line x1="238.7" y1="615.5" x2="238.7" y2="617.5" stroke="#000" stroke-width="0.9" />
<text x="253.6" y="627.6" font-size="8.4" font-weight="bold" text-anchor="middle">10<tspan font-size="6.2" dy="-3.4">5</tspan></text>
<line x1="253.6" y1="615.5" x2="253.6" y2="617.5" stroke="#000" stroke-width="0.9" />
<text x="227.3" y="638" font-size="8.6" font-weight="bold" text-anchor="middle" textLength="20.6" lengthAdjust="spacingAndGlyphs">PE-A</text>
<text transform="translate(158.4,574.5) rotate(-90)" font-size="10" font-weight="bold" text-anchor="middle">Cell number</text>
<polyline points="196.15,615.31 203.08,615.00 206.15,614.38 209.23,613.31 211.23,610.85 212.77,606.54 214.31,602.85 215.85,601.31 217.38,602.08 218.92,600.54 220.77,601.46 222.62,599.77 224.62,600.54 226.62,599.31 227.85,594.85 228.92,588.08 230.00,578.85 231.23,569.62 232.31,565.00 233.23,563.46 234.15,566.54 235.23,575.77 236.31,586.54 237.38,598.85 238.62,608.08 240.00,613.00 241.54,614.69 243.85,615.31 258.92,615.31" fill="none" stroke="#000" stroke-width="1.5" stroke-linejoin="round" stroke-linecap="round" />
<line x1="182.5" y1="604.5" x2="228" y2="604.5" stroke="#000" stroke-width="1.4" />
<line x1="228" y1="602.7" x2="228" y2="606.3" stroke="#000" stroke-width="1" />
<text x="197.5" y="603" font-size="9.7" font-weight="normal" text-anchor="start" fill="#000" style="stroke-width:0.5px">36.7</text>
<line x1="228" y1="593.75" x2="258.75" y2="593.75" stroke="#000" stroke-width="1.4" />
<line x1="228" y1="591.95" x2="228" y2="595.55" stroke="#000" stroke-width="1" />
<text x="238" y="592" font-size="9.7" font-weight="normal" text-anchor="start" fill="#000" style="stroke-width:0.5px">63.3</text>
<rect x="279.1" y="543" width="73.69999999999999" height="72.5" fill="none" stroke="#000" stroke-width="1.5" />
<line x1="276.1" y1="615.5" x2="279.1" y2="615.5" stroke="#000" stroke-width="1" />
<text x="275.70000000000005" y="619.1" font-size="8.4" font-weight="bold" text-anchor="end" fill="#000" >0</text>
<line x1="276.1" y1="592.7" x2="279.1" y2="592.7" stroke="#000" stroke-width="1" />
<text x="275.70000000000005" y="596.3000000000001" font-size="8.4" font-weight="bold" text-anchor="end" fill="#000" >100</text>
<line x1="276.1" y1="569.9" x2="279.1" y2="569.9" stroke="#000" stroke-width="1" />
<text x="275.70000000000005" y="573.5" font-size="8.4" font-weight="bold" text-anchor="end" fill="#000" >200</text>
<line x1="276.1" y1="547.1" x2="279.1" y2="547.1" stroke="#000" stroke-width="1" />
<text x="275.70000000000005" y="550.7" font-size="8.4" font-weight="bold" text-anchor="end" fill="#000" >300</text>
<line x1="277.5" y1="610.94" x2="279.1" y2="610.94" stroke="#000" stroke-width="0.7" />
<line x1="277.5" y1="606.38" x2="279.1" y2="606.38" stroke="#000" stroke-width="0.7" />
<line x1="277.5" y1="601.82" x2="279.1" y2="601.82" stroke="#000" stroke-width="0.7" />
<line x1="277.5" y1="597.26" x2="279.1" y2="597.26" stroke="#000" stroke-width="0.7" />
<line x1="277.5" y1="588.14" x2="279.1" y2="588.14" stroke="#000" stroke-width="0.7" />
<line x1="277.5" y1="583.58" x2="279.1" y2="583.58" stroke="#000" stroke-width="0.7" />
<line x1="277.5" y1="579.02" x2="279.1" y2="579.02" stroke="#000" stroke-width="0.7" />
<line x1="277.5" y1="574.46" x2="279.1" y2="574.46" stroke="#000" stroke-width="0.7" />
<line x1="277.5" y1="565.34" x2="279.1" y2="565.34" stroke="#000" stroke-width="0.7" />
<line x1="277.5" y1="560.78" x2="279.1" y2="560.78" stroke="#000" stroke-width="0.7" />
<line x1="277.5" y1="556.22" x2="279.1" y2="556.22" stroke="#000" stroke-width="0.7" />
<line x1="277.5" y1="551.66" x2="279.1" y2="551.66" stroke="#000" stroke-width="0.7" />
<text x="280.3" y="627.6" font-size="8.4" font-weight="bold" text-anchor="middle" fill="#000" >0</text>
<line x1="279.1" y1="615.5" x2="279.1" y2="617.5" stroke="#000" stroke-width="0.9" />
<text x="299.7" y="627.6" font-size="8.4" font-weight="bold" text-anchor="middle">10<tspan font-size="6.2" dy="-3.4">2</tspan></text>
<line x1="299.7" y1="615.5" x2="299.7" y2="617.5" stroke="#000" stroke-width="0.9" />
<text x="318.1" y="627.6" font-size="8.4" font-weight="bold" text-anchor="middle">10<tspan font-size="6.2" dy="-3.4">3</tspan></text>
<line x1="318.1" y1="615.5" x2="318.1" y2="617.5" stroke="#000" stroke-width="0.9" />
<text x="335.6" y="627.6" font-size="8.4" font-weight="bold" text-anchor="middle">10<tspan font-size="6.2" dy="-3.4">4</tspan></text>
<line x1="335.6" y1="615.5" x2="335.6" y2="617.5" stroke="#000" stroke-width="0.9" />
<text x="351.2" y="627.6" font-size="8.4" font-weight="bold" text-anchor="middle">10<tspan font-size="6.2" dy="-3.4">5</tspan></text>
<line x1="351.2" y1="615.5" x2="351.2" y2="617.5" stroke="#000" stroke-width="0.9" />
<text x="323" y="638" font-size="8.6" font-weight="bold" text-anchor="middle" textLength="20.6" lengthAdjust="spacingAndGlyphs">PE-A</text>
<polyline points="279.50,615.50 287.50,615.25 297.50,614.50 303.50,613.25 307.00,610.75 309.25,604.50 311.00,600.25 312.25,598.75 313.75,601.50 315.75,606.50 318.25,610.50 321.25,611.75 323.75,609.50 326.00,597.50 327.75,577.50 329.00,561.25 330.00,556.25 330.50,552.50 331.50,558.75 332.75,575.00 334.25,596.25 336.00,610.75 338.00,615.00 342.50,615.50 353.00,615.50" fill="none" stroke="#000" stroke-width="1.4" stroke-linejoin="round" stroke-linecap="round" />
<line x1="279.5" y1="604.25" x2="323.75" y2="604.25" stroke="#000" stroke-width="1.4" />
<line x1="323.75" y1="602.45" x2="323.75" y2="606.05" stroke="#000" stroke-width="1" />
<text x="290" y="602.5" font-size="9.7" font-weight="normal" text-anchor="start" fill="#000" style="stroke-width:0.5px">29.8</text>
<line x1="322.5" y1="593.5" x2="352.8" y2="593.5" stroke="#000" stroke-width="1.4" />
<line x1="322.5" y1="591.7" x2="322.5" y2="595.3" stroke="#000" stroke-width="1" />
<text x="332.2" y="591" font-size="9.7" font-weight="normal" text-anchor="start" fill="#000" style="stroke-width:0.5px">70.2</text>
<rect x="182.4" y="673.75" width="72.9" height="72.75" fill="none" stroke="#000" stroke-width="1.5" />
<line x1="179.4" y1="746.5" x2="182.4" y2="746.5" stroke="#000" stroke-width="1" />
<text x="179.0" y="750.1" font-size="8.4" font-weight="bold" text-anchor="end" fill="#000" >0</text>
<line x1="179.4" y1="731.95" x2="182.4" y2="731.95" stroke="#000" stroke-width="1" />
<text x="179.0" y="735.5500000000001" font-size="8.4" font-weight="bold" text-anchor="end" fill="#000" >20</text>
<line x1="179.4" y1="717.4" x2="182.4" y2="717.4" stroke="#000" stroke-width="1" />
<text x="179.0" y="721.0" font-size="8.4" font-weight="bold" text-anchor="end" fill="#000" >40</text>
<line x1="179.4" y1="702.85" x2="182.4" y2="702.85" stroke="#000" stroke-width="1" />
<text x="179.0" y="706.45" font-size="8.4" font-weight="bold" text-anchor="end" fill="#000" >60</text>
<line x1="179.4" y1="688.3" x2="182.4" y2="688.3" stroke="#000" stroke-width="1" />
<text x="179.0" y="691.9" font-size="8.4" font-weight="bold" text-anchor="end" fill="#000" >80</text>
<line x1="179.4" y1="673.75" x2="182.4" y2="673.75" stroke="#000" stroke-width="1" />
<text x="179.0" y="677.35" font-size="8.4" font-weight="bold" text-anchor="end" fill="#000" >100</text>
<line x1="180.8" y1="743.59" x2="182.4" y2="743.59" stroke="#000" stroke-width="0.7" />
<line x1="180.8" y1="740.68" x2="182.4" y2="740.68" stroke="#000" stroke-width="0.7" />
<line x1="180.8" y1="737.77" x2="182.4" y2="737.77" stroke="#000" stroke-width="0.7" />
<line x1="180.8" y1="734.86" x2="182.4" y2="734.86" stroke="#000" stroke-width="0.7" />
<line x1="180.8" y1="729.04" x2="182.4" y2="729.04" stroke="#000" stroke-width="0.7" />
<line x1="180.8" y1="726.13" x2="182.4" y2="726.13" stroke="#000" stroke-width="0.7" />
<line x1="180.8" y1="723.22" x2="182.4" y2="723.22" stroke="#000" stroke-width="0.7" />
<line x1="180.8" y1="720.31" x2="182.4" y2="720.31" stroke="#000" stroke-width="0.7" />
<line x1="180.8" y1="714.49" x2="182.4" y2="714.49" stroke="#000" stroke-width="0.7" />
<line x1="180.8" y1="711.58" x2="182.4" y2="711.58" stroke="#000" stroke-width="0.7" />
<line x1="180.8" y1="708.67" x2="182.4" y2="708.67" stroke="#000" stroke-width="0.7" />
<line x1="180.8" y1="705.76" x2="182.4" y2="705.76" stroke="#000" stroke-width="0.7" />
<line x1="180.8" y1="699.94" x2="182.4" y2="699.94" stroke="#000" stroke-width="0.7" />
<line x1="180.8" y1="697.03" x2="182.4" y2="697.03" stroke="#000" stroke-width="0.7" />
<line x1="180.8" y1="694.12" x2="182.4" y2="694.12" stroke="#000" stroke-width="0.7" />
<line x1="180.8" y1="691.21" x2="182.4" y2="691.21" stroke="#000" stroke-width="0.7" />
<line x1="180.8" y1="685.39" x2="182.4" y2="685.39" stroke="#000" stroke-width="0.7" />
<line x1="180.8" y1="682.48" x2="182.4" y2="682.48" stroke="#000" stroke-width="0.7" />
<line x1="180.8" y1="679.5699999999999" x2="182.4" y2="679.5699999999999" stroke="#000" stroke-width="0.7" />
<line x1="180.8" y1="676.66" x2="182.4" y2="676.66" stroke="#000" stroke-width="0.7" />
<text x="184.4" y="757.8" font-size="8.4" font-weight="bold" text-anchor="middle" fill="#000" >0</text>
<line x1="182.4" y1="746.5" x2="182.4" y2="748.5" stroke="#000" stroke-width="0.9" />
<text x="203.3" y="757.8" font-size="8.4" font-weight="bold" text-anchor="middle">10<tspan font-size="6.2" dy="-3.4">2</tspan></text>
<line x1="203.3" y1="746.5" x2="203.3" y2="748.5" stroke="#000" stroke-width="0.9" />
<text x="221.2" y="757.8" font-size="8.4" font-weight="bold" text-anchor="middle">10<tspan font-size="6.2" dy="-3.4">3</tspan></text>
<line x1="221.2" y1="746.5" x2="221.2" y2="748.5" stroke="#000" stroke-width="0.9" />
<text x="239" y="757.8" font-size="8.4" font-weight="bold" text-anchor="middle">10<tspan font-size="6.2" dy="-3.4">4</tspan></text>
<line x1="239" y1="746.5" x2="239" y2="748.5" stroke="#000" stroke-width="0.9" />
<text x="252.6" y="757.8" font-size="8.4" font-weight="bold" text-anchor="middle">10<tspan font-size="6.2" dy="-3.4">5</tspan></text>
<line x1="252.6" y1="746.5" x2="252.6" y2="748.5" stroke="#000" stroke-width="0.9" />
<text x="223.4" y="767.5" font-size="8.6" font-weight="bold" text-anchor="middle" textLength="20.6" lengthAdjust="spacingAndGlyphs">PE-A</text>
<text transform="translate(158.4,700) rotate(-90)" font-size="10" font-weight="bold" text-anchor="middle">Cell number</text>
<polyline points="181.75,746.50 191.25,746.25 196.50,745.50 198.50,741.50 200.50,733.25 202.50,725.75 204.25,721.50 205.50,717.00 206.75,717.75 208.00,712.25 209.00,714.00 210.50,710.75 211.75,712.00 212.50,709.00 213.75,713.25 215.00,712.50 216.50,718.25 218.00,719.50 219.50,724.50 221.00,728.25 222.50,732.00 224.50,738.25 226.50,741.50 228.75,742.50 231.00,740.75 232.50,734.50 234.00,719.50 235.50,702.00 236.75,694.50 238.00,702.00 239.50,719.50 241.00,735.75 242.50,744.00 244.50,746.00 248.75,746.50 255.00,746.50" fill="none" stroke="#000" stroke-width="1.4" stroke-linejoin="round" stroke-linecap="round" />
<line x1="182.4" y1="735.75" x2="226.25" y2="735.75" stroke="#000" stroke-width="1.4" />
<line x1="226.25" y1="733.95" x2="226.25" y2="737.55" stroke="#000" stroke-width="1" />
<text x="185.7" y="730.2" font-size="9.7" font-weight="normal" text-anchor="start" fill="#000" style="stroke-width:0.5px">67.9</text>
<line x1="226" y1="724.5" x2="255.3" y2="724.5" stroke="#000" stroke-width="1.4" />
<line x1="226" y1="722.7" x2="226" y2="726.3" stroke="#000" stroke-width="1" />
<text x="235.2" y="721" font-size="9.7" font-weight="normal" text-anchor="start" fill="#000" style="stroke-width:0.5px">32.5</text>
<rect x="277.9" y="673.75" width="73.5" height="72.75" fill="none" stroke="#000" stroke-width="1.5" />
<line x1="274.9" y1="746.5" x2="277.9" y2="746.5" stroke="#000" stroke-width="1" />
<text x="274.5" y="750.1" font-size="8.4" font-weight="bold" text-anchor="end" fill="#000" >0</text>
<line x1="274.9" y1="731.95" x2="277.9" y2="731.95" stroke="#000" stroke-width="1" />
<text x="274.5" y="735.5500000000001" font-size="8.4" font-weight="bold" text-anchor="end" fill="#000" >20</text>
<line x1="274.9" y1="717.4" x2="277.9" y2="717.4" stroke="#000" stroke-width="1" />
<text x="274.5" y="721.0" font-size="8.4" font-weight="bold" text-anchor="end" fill="#000" >40</text>
<line x1="274.9" y1="702.85" x2="277.9" y2="702.85" stroke="#000" stroke-width="1" />
<text x="274.5" y="706.45" font-size="8.4" font-weight="bold" text-anchor="end" fill="#000" >60</text>
<line x1="274.9" y1="688.3" x2="277.9" y2="688.3" stroke="#000" stroke-width="1" />
<text x="274.5" y="691.9" font-size="8.4" font-weight="bold" text-anchor="end" fill="#000" >80</text>
<line x1="274.9" y1="673.75" x2="277.9" y2="673.75" stroke="#000" stroke-width="1" />
<text x="274.5" y="677.35" font-size="8.4" font-weight="bold" text-anchor="end" fill="#000" >100</text>
<line x1="276.29999999999995" y1="743.59" x2="277.9" y2="743.59" stroke="#000" stroke-width="0.7" />
<line x1="276.29999999999995" y1="740.68" x2="277.9" y2="740.68" stroke="#000" stroke-width="0.7" />
<line x1="276.29999999999995" y1="737.77" x2="277.9" y2="737.77" stroke="#000" stroke-width="0.7" />
<line x1="276.29999999999995" y1="734.86" x2="277.9" y2="734.86" stroke="#000" stroke-width="0.7" />
<line x1="276.29999999999995" y1="729.04" x2="277.9" y2="729.04" stroke="#000" stroke-width="0.7" />
<line x1="276.29999999999995" y1="726.13" x2="277.9" y2="726.13" stroke="#000" stroke-width="0.7" />
<line x1="276.29999999999995" y1="723.22" x2="277.9" y2="723.22" stroke="#000" stroke-width="0.7" />
<line x1="276.29999999999995" y1="720.31" x2="277.9" y2="720.31" stroke="#000" stroke-width="0.7" />
<line x1="276.29999999999995" y1="714.49" x2="277.9" y2="714.49" stroke="#000" stroke-width="0.7" />
<line x1="276.29999999999995" y1="711.58" x2="277.9" y2="711.58" stroke="#000" stroke-width="0.7" />
<line x1="276.29999999999995" y1="708.67" x2="277.9" y2="708.67" stroke="#000" stroke-width="0.7" />
<line x1="276.29999999999995" y1="705.76" x2="277.9" y2="705.76" stroke="#000" stroke-width="0.7" />
<line x1="276.29999999999995" y1="699.94" x2="277.9" y2="699.94" stroke="#000" stroke-width="0.7" />
<line x1="276.29999999999995" y1="697.03" x2="277.9" y2="697.03" stroke="#000" stroke-width="0.7" />
<line x1="276.29999999999995" y1="694.12" x2="277.9" y2="694.12" stroke="#000" stroke-width="0.7" />
<line x1="276.29999999999995" y1="691.21" x2="277.9" y2="691.21" stroke="#000" stroke-width="0.7" />
<line x1="276.29999999999995" y1="685.39" x2="277.9" y2="685.39" stroke="#000" stroke-width="0.7" />
<line x1="276.29999999999995" y1="682.48" x2="277.9" y2="682.48" stroke="#000" stroke-width="0.7" />
<line x1="276.29999999999995" y1="679.5699999999999" x2="277.9" y2="679.5699999999999" stroke="#000" stroke-width="0.7" />
<line x1="276.29999999999995" y1="676.66" x2="277.9" y2="676.66" stroke="#000" stroke-width="0.7" />
<text x="280" y="757.8" font-size="8.4" font-weight="bold" text-anchor="middle" fill="#000" >0</text>
<line x1="277.9" y1="746.5" x2="277.9" y2="748.5" stroke="#000" stroke-width="0.9" />
<text x="298.5" y="757.8" font-size="8.4" font-weight="bold" text-anchor="middle">10<tspan font-size="6.2" dy="-3.4">2</tspan></text>
<line x1="298.5" y1="746.5" x2="298.5" y2="748.5" stroke="#000" stroke-width="0.9" />
<text x="315.8" y="757.8" font-size="8.4" font-weight="bold" text-anchor="middle">10<tspan font-size="6.2" dy="-3.4">3</tspan></text>
<line x1="315.8" y1="746.5" x2="315.8" y2="748.5" stroke="#000" stroke-width="0.9" />
<text x="333.6" y="757.8" font-size="8.4" font-weight="bold" text-anchor="middle">10<tspan font-size="6.2" dy="-3.4">4</tspan></text>
<line x1="333.6" y1="746.5" x2="333.6" y2="748.5" stroke="#000" stroke-width="0.9" />
<text x="348.9" y="757.8" font-size="8.4" font-weight="bold" text-anchor="middle">10<tspan font-size="6.2" dy="-3.4">5</tspan></text>
<line x1="348.9" y1="746.5" x2="348.9" y2="748.5" stroke="#000" stroke-width="0.9" />
<text x="317.8" y="767.5" font-size="8.6" font-weight="bold" text-anchor="middle" textLength="20.6" lengthAdjust="spacingAndGlyphs">PE-A</text>
<polyline points="278.75,746.50 286.25,746.25 289.50,745.50 291.25,741.25 292.75,730.00 294.25,722.00 295.00,720.00 296.50,721.50 298.00,719.00 299.00,720.75 300.00,714.50 301.25,710.75 302.50,705.75 303.75,702.50 305.00,704.00 306.50,702.00 308.00,703.50 309.25,702.50 310.25,712.00 311.50,722.00 313.00,729.50 314.50,733.25 317.00,736.50 320.00,740.00 323.00,742.50 325.00,743.00 327.50,740.75 329.50,733.25 331.00,724.50 332.50,719.50 334.00,724.50 335.50,734.50 337.00,742.50 339.00,745.50 342.50,746.50 352.00,746.50" fill="none" stroke="#000" stroke-width="1.4" stroke-linejoin="round" stroke-linecap="round" />
<line x1="277.9" y1="735" x2="322" y2="735" stroke="#000" stroke-width="1.4" />
<line x1="322" y1="733.2" x2="322" y2="736.8" stroke="#000" stroke-width="1" />
<text x="294.3" y="733.4" font-size="9.7" font-weight="normal" text-anchor="start" fill="#000" style="stroke-width:0.5px">82.7</text>
<line x1="322" y1="724.5" x2="351.4" y2="724.5" stroke="#000" stroke-width="1.4" />
<line x1="322" y1="722.7" x2="322" y2="726.3" stroke="#000" stroke-width="1" />
<text x="327.8" y="718.75" font-size="9.7" font-weight="normal" text-anchor="start" fill="#000" style="stroke-width:0.5px">17.3</text>
</g>
</svg></body></html>
